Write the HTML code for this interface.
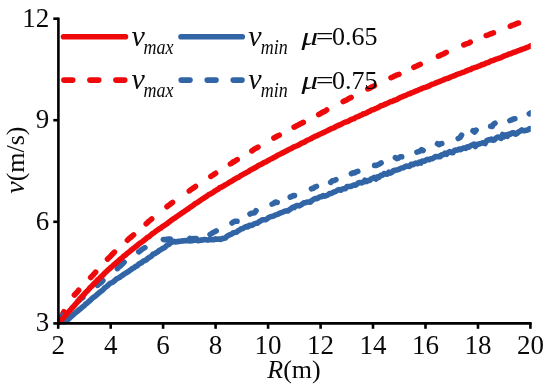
<!DOCTYPE html>
<html><head><meta charset="utf-8"><title>chart</title>
<style>
html,body{margin:0;padding:0;background:#fff;}
svg{display:block;font-family:"Liberation Serif",serif;font-size:26px;fill:#0a0a0a;}
.it{font-style:italic;}
.sub{font-style:italic;font-size:20px;}
.v{font-style:italic;font-size:30px;}
</style></head><body>
<svg width="550" height="387" viewBox="0 0 550 387">
<rect width="550" height="387" fill="#fff"/>
<clipPath id="plot"><rect x="57.5" y="10" width="473.3" height="314.5"/></clipPath>
<g id="curves" clip-path="url(#plot)" fill="none" stroke-width="5.6" stroke-linecap="round" stroke-linejoin="round">
<path d="M58.2,323.4 L59.6,320.4 L61.1,317.4 L62.5,314.5 L63.9,311.8 M74.4,295.0 L75.8,293.5 L77.2,292.1 L78.6,290.3 M90.7,277.5 L92.3,275.8 L94.0,274.0 L95.6,272.1 M107.5,259.1 L108.9,257.8 L110.3,256.5 L111.6,254.9 L113.0,253.6 L114.4,252.1 M127.4,240.2 L128.9,238.8 L130.5,237.6 L132.1,236.1 L133.6,234.9 M146.2,223.8 L147.6,222.5 L149.0,221.1 L150.3,220.1 L151.7,219.0 M167.0,206.7 L168.4,205.5 L169.8,204.6 L171.1,203.5 L172.5,202.5 M189.3,190.9 L190.9,189.6 L192.4,188.7 L193.9,187.7 L195.5,186.5 M210.9,176.4 L212.5,175.4 L214.0,174.4 L215.6,173.3 M230.4,163.9 L231.7,163.2 L233.1,162.0 L234.5,161.5 L235.9,160.5 L237.2,159.6 M251.9,150.9 L253.4,149.9 L254.9,148.7 L256.5,148.0 L258.0,147.1 M273.9,138.0 L275.2,137.3 L276.6,136.5 L278.0,135.8 L279.3,135.2 M294.1,127.1 L295.6,126.4 L297.2,125.5 L298.7,124.8 L300.2,123.8 L301.8,123.1 L303.3,122.4 M318.7,114.6 L320.3,113.8 L321.9,112.6 L323.4,111.9 L325.0,111.2 L326.6,110.0 M343.2,101.5 L344.8,100.7 L346.4,100.1 L347.9,99.2 L349.5,98.2 L351.1,97.4 M367.8,88.9 L369.5,88.3 L371.1,87.3 L372.7,86.5 L374.4,85.8 M391.0,77.7 L392.6,77.0 L394.2,76.2 L395.7,75.6 L397.3,74.8 L398.9,74.3 M413.9,67.3 L415.5,66.5 L417.1,65.9 L418.7,65.0 L420.3,64.4 M438.4,56.2 L439.9,55.6 L441.5,54.6 L443.1,54.1 L444.7,53.2 L446.2,52.4 M463.8,44.9 L465.4,44.2 L467.0,43.6 L468.6,43.2 L470.2,42.1 M486.2,35.5 L487.6,35.1 L489.1,34.5 L490.5,33.9 L492.0,33.3 L493.4,32.8 M510.3,26.2 L512.0,25.4 L513.6,24.9 L515.2,24.3 L516.8,23.5 L518.5,23.1" stroke="#ee0a0a"/>
<path d="M58.2,323.3 L59.7,320.6 L61.3,317.9 L62.8,315.5 M78.2,300.9 L79.7,299.9 L81.3,298.5 L82.8,297.5 M97.6,285.4 L99.4,283.5 L101.1,282.5 L102.9,280.6 M117.4,268.6 L119.1,266.8 L120.8,265.6 L122.4,264.0 L124.1,262.2 M138.7,251.8 L140.2,250.8 L141.8,249.5 L143.4,248.5 L144.9,247.6 M163.3,239.5 L164.7,239.8 L166.1,239.3 L167.4,239.3 L168.8,239.0 L170.2,239.0 M189.8,238.3 L191.4,239.0 L193.0,238.6 L194.6,238.8 L196.2,238.5 M210.1,234.4 L211.6,233.6 L213.1,232.5 L214.7,231.8 L216.2,230.9 M232.0,223.0 L233.7,221.8 L235.3,221.2 L237.0,221.3 M250.0,214.0 L251.5,213.2 L253.0,213.0 L254.5,212.7 L256.0,210.8 M272.1,204.1 L273.8,203.2 L275.5,202.0 L277.2,202.4 M290.2,197.0 L291.6,196.5 L293.1,195.6 L294.5,195.6 M311.4,188.8 L313.1,188.3 L314.8,187.2 L316.5,186.5 M330.7,182.4 L332.4,180.8 L334.2,180.5 L335.9,179.7 M351.4,173.6 L353.0,172.9 L354.6,173.0 L356.2,171.9 L357.8,171.4 M374.6,165.4 L376.2,165.5 L377.9,164.7 L379.5,164.0 L381.1,162.9 M395.4,157.6 L397.0,158.6 L398.5,158.1 L400.1,156.9 L401.7,156.8 M416.9,152.1 L418.4,151.6 L420.0,151.1 L421.6,149.7 L423.1,150.5 M437.5,143.7 L438.9,144.6 L440.4,143.9 L441.8,143.6 M458.2,138.5 L459.9,137.6 L461.5,135.2 M473.0,130.8 L474.6,132.1 L476.1,130.2 M490.6,126.3 L492.1,126.5 L493.5,124.1 L495.0,123.3 M509.9,120.5 L511.6,119.8 L513.2,119.1 L514.9,118.8 M529.3,113.8 L530.8,112.8 L532.3,113.5" stroke="#3165a5"/>
<path d="M63.4,323.3 L65.0,321.8 L66.7,320.7 L68.3,319.2 L69.9,317.8 L71.5,316.3 L73.1,314.9 L74.7,313.5 L76.3,312.1 L77.9,310.9 L79.5,309.4 L81.1,308.2 L82.7,306.8 L84.3,305.7 L85.9,303.8 L87.5,302.8 L89.1,301.3 L90.7,299.9 L92.3,298.3 L93.9,297.1 L95.5,296.0 L97.1,294.5 L98.7,293.2 L100.3,291.8 L101.9,290.7 L103.5,289.2 L105.1,287.5 L106.7,286.5 L108.3,285.0 L109.9,283.5 L111.5,282.8 L113.1,282.0 L114.7,280.6 L116.3,279.2 L117.9,278.2 L119.5,277.5 L121.1,276.2 L122.7,275.1 L124.3,274.0 L126.0,272.9 L127.6,272.1 L129.2,270.9 L130.8,269.8 L132.4,268.5 L134.0,267.8 L135.6,266.4 L137.2,265.8 L138.8,264.1 L140.4,263.3 L142.0,262.3 L143.6,260.9 L145.2,260.5 L146.8,259.4 L148.4,257.9 L150.0,257.1 L151.6,255.9 L153.2,254.1 L154.8,253.8 L156.4,252.6 L158.0,251.6 L159.6,250.2 L161.2,249.4 L162.8,248.4 L164.4,247.7 L166.0,246.2 L167.6,244.9 L169.2,244.2 L170.8,242.6 L172.4,242.1 L174.0,241.3 L175.6,242.0 L177.2,241.6 L178.8,241.4 L180.4,241.2 L182.0,240.9 L183.6,240.9 L185.3,240.6 L186.9,240.6 L188.5,240.6 L190.1,241.0 L191.7,240.6 L193.3,240.4 L194.9,240.1 L196.5,240.0 L198.1,240.7 L199.7,240.3 L201.3,240.1 L202.9,239.9 L204.5,239.5 L206.1,239.8 L207.7,240.1 L209.3,239.6 L210.9,239.6 L212.5,239.6 L214.1,239.6 L215.7,238.9 L217.3,239.3 L218.9,239.0 L220.5,239.4 L222.1,238.6 L223.7,238.4 L225.3,238.0 L226.9,236.3 L228.5,235.3 L230.1,234.7 L231.7,233.9 L233.3,232.7 L234.9,232.5 L236.5,232.3 L238.1,230.7 L239.7,229.9 L241.3,228.8 L242.9,228.6 L244.6,227.3 L246.2,226.6 L247.8,226.9 L249.4,225.3 L251.0,225.5 L252.6,225.0 L254.2,223.8 L255.8,223.3 L257.4,223.2 L259.0,221.7 L260.6,220.9 L262.2,219.9 L263.8,219.8 L265.4,219.8 L267.0,219.0 L268.6,217.5 L270.2,216.9 L271.8,216.4 L273.4,216.1 L275.0,215.2 L276.6,214.7 L278.2,214.1 L279.8,213.2 L281.4,212.6 L283.0,212.1 L284.6,211.3 L286.2,210.9 L287.8,210.9 L289.4,209.7 L291.0,208.8 L292.6,207.3 L294.2,207.6 L295.8,205.9 L297.4,205.5 L299.0,205.9 L300.6,205.2 L302.2,204.2 L303.8,202.8 L305.5,202.8 L307.1,202.0 L308.7,202.0 L310.3,202.2 L311.9,200.6 L313.5,199.4 L315.1,198.6 L316.7,198.6 L318.3,197.9 L319.9,196.8 L321.5,196.8 L323.1,195.6 L324.7,196.2 L326.3,195.6 L327.9,195.0 L329.5,193.6 L331.1,193.5 L332.7,192.6 L334.3,191.9 L335.9,191.3 L337.5,190.2 L339.1,189.6 L340.7,190.2 L342.3,189.1 L343.9,188.8 L345.5,188.6 L347.1,186.5 L348.7,186.5 L350.3,186.5 L351.9,186.0 L353.5,185.0 L355.1,185.3 L356.7,184.3 L358.3,182.9 L359.9,182.5 L361.5,182.9 L363.1,182.2 L364.8,180.2 L366.4,181.6 L368.0,180.6 L369.6,180.5 L371.2,178.9 L372.8,178.4 L374.4,177.3 L376.0,179.0 L377.6,176.8 L379.2,177.3 L380.8,175.4 L382.4,175.3 L384.0,173.6 L385.6,173.9 L387.2,174.1 L388.8,172.2 L390.4,173.1 L392.0,172.1 L393.6,170.6 L395.2,170.4 L396.8,169.9 L398.4,169.6 L400.0,168.7 L401.6,168.0 L403.2,167.8 L404.8,166.8 L406.4,166.1 L408.0,166.3 L409.6,166.4 L411.2,164.3 L412.8,164.7 L414.4,163.8 L416.0,163.0 L417.6,163.7 L419.2,162.2 L420.8,163.1 L422.4,161.0 L424.1,161.3 L425.7,160.3 L427.3,159.4 L428.9,159.8 L430.5,158.8 L432.1,158.8 L433.7,157.9 L435.3,156.6 L436.9,156.8 L438.5,156.4 L440.1,156.6 L441.7,154.7 L443.3,154.8 L444.9,153.2 L446.5,154.3 L448.1,152.6 L449.7,151.6 L451.3,152.4 L452.9,152.7 L454.5,150.3 L456.1,150.1 L457.7,149.9 L459.3,149.1 L460.9,149.7 L462.5,148.4 L464.1,147.9 L465.7,148.4 L467.3,146.9 L468.9,147.3 L470.5,145.8 L472.1,145.1 L473.7,144.2 L475.3,146.5 L476.9,144.3 L478.5,144.3 L480.1,143.6 L481.7,143.2 L483.3,142.7 L485.0,143.6 L486.6,140.8 L488.2,139.9 L489.8,139.9 L491.4,139.1 L493.0,140.3 L494.6,139.8 L496.2,137.9 L497.8,137.1 L499.4,137.4 L501.0,138.3 L502.6,134.5 L504.2,136.7 L505.8,135.0 L507.4,136.2 L509.0,134.0 L510.6,134.2 L512.2,132.8 L513.8,132.7 L515.4,134.2 L517.0,133.4 L518.6,131.9 L520.2,131.1 L521.8,129.9 L523.4,130.7 L525.0,130.6 L526.6,130.2 L528.2,129.8 L529.8,128.6 L531.4,129.1" stroke="#3165a5"/>
<path d="M58.2,323.4 L59.8,321.9 L61.4,320.2 L63.0,318.2 L64.6,316.3 L66.2,314.7 L67.8,312.8 L69.4,311.0 L71.0,309.3 L72.6,307.4 L74.2,305.8 L75.8,303.8 L77.4,302.0 L79.0,300.1 L80.6,298.1 L82.2,296.3 L83.8,294.6 L85.4,292.8 L87.0,291.3 L88.6,289.5 L90.2,287.6 L91.8,286.2 L93.4,284.3 L95.0,282.8 L96.6,281.2 L98.2,279.4 L99.8,278.1 L101.4,276.5 L103.0,274.9 L104.6,273.3 L106.2,271.8 L107.8,270.2 L109.4,268.9 L111.0,267.4 L112.6,266.0 L114.2,264.4 L115.8,263.2 L117.4,261.8 L119.0,260.4 L120.6,258.9 L122.2,257.7 L123.7,256.1 L125.3,255.1 L126.9,253.7 L128.5,252.4 L130.1,251.1 L131.7,249.7 L133.3,248.5 L134.9,247.3 L136.5,246.0 L138.1,244.8 L139.7,243.3 L141.3,242.3 L142.9,241.2 L144.5,240.0 L146.1,238.6 L147.7,237.2 L149.3,236.4 L150.9,235.0 L152.5,233.5 L154.1,232.8 L155.7,231.3 L157.3,230.2 L158.9,229.1 L160.5,228.3 L162.1,226.9 L163.7,225.9 L165.3,224.9 L166.9,223.8 L168.5,222.4 L170.1,221.2 L171.7,220.0 L173.3,218.9 L174.9,218.0 L176.5,216.8 L178.1,215.7 L179.7,214.7 L181.3,213.3 L182.9,212.3 L184.5,211.3 L186.1,210.2 L187.7,209.2 L189.3,208.0 L190.9,206.8 L192.5,205.8 L194.1,204.5 L195.7,203.3 L197.3,202.6 L198.9,201.4 L200.5,200.4 L202.1,199.1 L203.7,198.2 L205.3,197.1 L206.9,196.1 L208.5,194.8 L210.1,194.1 L211.7,193.3 L213.3,192.2 L214.9,191.0 L216.5,190.1 L218.1,189.3 L219.7,187.7 L221.3,187.2 L222.9,186.3 L224.5,185.3 L226.1,184.5 L227.7,183.5 L229.3,182.4 L230.9,181.5 L232.5,180.6 L234.1,179.5 L235.7,178.6 L237.3,177.8 L238.9,177.1 L240.5,175.8 L242.1,174.9 L243.7,174.1 L245.3,173.3 L246.9,172.2 L248.5,171.5 L250.1,170.3 L251.6,169.5 L253.2,168.6 L254.8,167.9 L256.4,167.0 L258.0,165.8 L259.6,165.0 L261.2,164.3 L262.8,163.3 L264.4,162.3 L266.0,161.8 L267.6,160.8 L269.2,160.0 L270.8,159.0 L272.4,158.4 L274.0,157.3 L275.6,156.7 L277.2,155.5 L278.8,154.7 L280.4,154.0 L282.0,153.1 L283.6,152.4 L285.2,151.6 L286.8,150.6 L288.4,149.9 L290.0,149.0 L291.6,148.4 L293.2,147.3 L294.8,146.6 L296.4,146.0 L298.0,145.4 L299.6,144.5 L301.2,143.4 L302.8,142.7 L304.4,142.1 L306.0,141.0 L307.6,140.1 L309.2,139.5 L310.8,138.8 L312.4,137.8 L314.0,136.9 L315.6,136.1 L317.2,135.7 L318.8,134.7 L320.4,134.0 L322.0,133.3 L323.6,132.6 L325.2,131.7 L326.8,131.0 L328.4,130.1 L330.0,129.4 L331.6,128.5 L333.2,128.1 L334.8,127.2 L336.4,126.3 L338.0,125.6 L339.6,124.9 L341.2,124.3 L342.8,123.2 L344.4,122.5 L346.0,121.9 L347.6,121.6 L349.2,120.6 L350.8,119.7 L352.4,119.1 L354.0,118.6 L355.6,117.5 L357.2,116.8 L358.8,116.3 L360.4,115.4 L362.0,114.7 L363.6,113.8 L365.2,113.5 L366.8,112.7 L368.4,111.8 L370.0,111.1 L371.6,110.0 L373.2,109.7 L374.8,108.9 L376.4,108.3 L378.0,107.6 L379.5,106.7 L381.1,105.8 L382.7,105.4 L384.3,104.6 L385.9,103.9 L387.5,103.2 L389.1,102.5 L390.7,101.5 L392.3,101.4 L393.9,100.5 L395.5,100.0 L397.1,99.4 L398.7,98.4 L400.3,97.5 L401.9,96.9 L403.5,96.2 L405.1,95.6 L406.7,95.0 L408.3,94.0 L409.9,93.7 L411.5,92.8 L413.1,92.3 L414.7,91.6 L416.3,90.9 L417.9,90.3 L419.5,89.5 L421.1,88.9 L422.7,88.1 L424.3,87.6 L425.9,87.3 L427.5,86.6 L429.1,85.9 L430.7,85.1 L432.3,84.3 L433.9,83.9 L435.5,83.1 L437.1,82.4 L438.7,81.8 L440.3,81.2 L441.9,80.5 L443.5,79.9 L445.1,79.1 L446.7,78.6 L448.3,78.3 L449.9,77.4 L451.5,76.7 L453.1,76.2 L454.7,75.6 L456.3,74.7 L457.9,74.2 L459.5,73.7 L461.1,73.0 L462.7,72.4 L464.3,72.0 L465.9,71.0 L467.5,70.5 L469.1,69.8 L470.7,69.5 L472.3,68.3 L473.9,67.9 L475.5,67.3 L477.1,66.8 L478.7,66.2 L480.3,65.7 L481.9,64.6 L483.5,64.4 L485.1,63.6 L486.7,62.9 L488.3,62.5 L489.9,61.6 L491.5,60.8 L493.1,60.5 L494.7,59.7 L496.3,59.2 L497.9,58.7 L499.5,58.1 L501.1,57.6 L502.7,56.8 L504.3,55.9 L505.9,55.4 L507.4,54.8 L509.0,54.1 L510.6,53.8 L512.2,53.0 L513.8,52.2 L515.4,51.9 L517.0,51.2 L518.6,50.7 L520.2,50.0 L521.8,49.5 L523.4,48.8 L525.0,48.3 L526.6,47.6 L528.2,47.0 L529.8,46.4 L531.4,45.5" stroke="#ee0a0a"/>
</g>
<g stroke="#000" stroke-width="2.6" fill="none">
<line x1="58.4" y1="17.4" x2="58.4" y2="324.7"/>
<line x1="57" y1="323.4" x2="531.7" y2="323.4"/>
<line x1="58.2" y1="323.4" x2="58.2" y2="328.8"/>
<line x1="110.7" y1="323.4" x2="110.7" y2="328.8"/>
<line x1="163.1" y1="323.4" x2="163.1" y2="328.8"/>
<line x1="215.6" y1="323.4" x2="215.6" y2="328.8"/>
<line x1="268.1" y1="323.4" x2="268.1" y2="328.8"/>
<line x1="320.6" y1="323.4" x2="320.6" y2="328.8"/>
<line x1="373.0" y1="323.4" x2="373.0" y2="328.8"/>
<line x1="425.5" y1="323.4" x2="425.5" y2="328.8"/>
<line x1="478.0" y1="323.4" x2="478.0" y2="328.8"/>
<line x1="530.4" y1="323.4" x2="530.4" y2="328.8"/>
<line x1="53.3" y1="323.4" x2="58.3" y2="323.4"/>
<line x1="53.3" y1="221.8" x2="58.3" y2="221.8"/>
<line x1="53.3" y1="120.2" x2="58.3" y2="120.2"/>
<line x1="53.3" y1="18.7" x2="58.3" y2="18.7"/>
</g>
<g id="legend" fill="none" stroke-width="5.6" stroke-linecap="round">
<line x1="63.5" y1="36.8" x2="125.5" y2="36.8" stroke="#ee0a0a"/>
<line x1="181" y1="36.8" x2="242.3" y2="36.8" stroke="#3165a5"/>
<line x1="63.9" y1="80.1" x2="125.5" y2="80.1" stroke="#ee0a0a" stroke-dasharray="8.8 17.2"/>
<line x1="181.2" y1="80.1" x2="242.3" y2="80.1" stroke="#3165a5" stroke-dasharray="8.8 17.2"/>
</g>
<g id="xlabels" font-size="27">
<text x="58.2" y="353.5" text-anchor="middle">2</text>
<text x="110.7" y="353.5" text-anchor="middle">4</text>
<text x="163.1" y="353.5" text-anchor="middle">6</text>
<text x="215.6" y="353.5" text-anchor="middle">8</text>
<text x="268.1" y="353.5" text-anchor="middle">10</text>
<text x="320.6" y="353.5" text-anchor="middle">12</text>
<text x="373.0" y="353.5" text-anchor="middle">14</text>
<text x="425.5" y="353.5" text-anchor="middle">16</text>
<text x="478.0" y="353.5" text-anchor="middle">18</text>
<text x="530.4" y="353.5" text-anchor="middle">20</text>
</g>
<g id="ylabels" font-size="27">
<text x="49.3" y="331.4" text-anchor="end">3</text>
<text x="49.3" y="229.8" text-anchor="end">6</text>
<text x="49.3" y="128.2" text-anchor="end">9</text>
<text x="49.3" y="26.7" text-anchor="end">12</text>
</g>
<text x="267.3" y="378.3"><tspan class="it">R</tspan>(m)</text>
<text transform="translate(23.5,193.8) rotate(-90)"><tspan class="it" font-size="28">v</tspan>(m/s)</text>
<g id="legendtext">
<text x="131.5" y="45.8" class="v">v</text><text transform="translate(143.6,53.7) scale(0.9,1)" class="sub">max</text>
<text x="248.3" y="45.8" class="v">v</text><text transform="translate(260.8,53.7) scale(0.9,1)" class="sub">min</text>
<text transform="translate(301.6,45.3) scale(1.27,1)" class="it">μ</text><text transform="translate(315.7,45.3) scale(1.22,1)">=</text><text x="332" y="45.3">0.65</text>
<text x="131.5" y="89.1" class="v">v</text><text transform="translate(143.6,97.0) scale(0.9,1)" class="sub">max</text>
<text x="248.3" y="89.1" class="v">v</text><text transform="translate(260.8,97.0) scale(0.9,1)" class="sub">min</text>
<text transform="translate(301.6,88.6) scale(1.27,1)" class="it">μ</text><text transform="translate(315.7,88.6) scale(1.22,1)">=</text><text x="332" y="88.6">0.75</text>
</g>
</svg>
</body></html>
